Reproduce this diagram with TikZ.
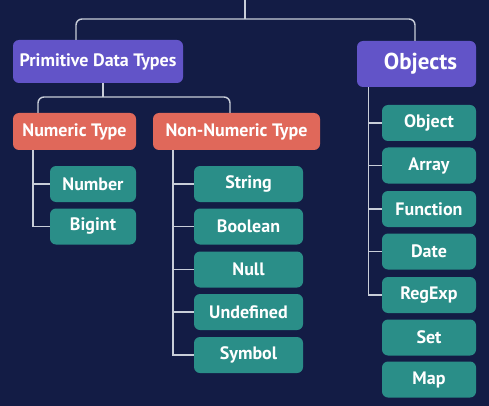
\documentclass[tikz,border=0pt]{standalone}
\usepackage{fontspec}
\setmainfont{PT Sans}
\definecolor{bgc}{HTML}{131C45}
\definecolor{purp}{HTML}{6254C8}
\definecolor{salm}{HTML}{E0685A}
\definecolor{teal}{HTML}{2A8E88}
\definecolor{linec}{HTML}{C8CDD8}
\tikzset{
  box/.style={rounded corners=6pt, text=white, align=center, inner sep=0pt,
    font=\fontsize{18}{20}\selectfont\bfseries},
  purpbox/.style={box, fill=purp},
  salmbox/.style={box, fill=salm, minimum height=37pt},
  leafbox/.style={box, fill=teal, minimum height=36pt},
  conn/.style={draw=linec, line width=1.4pt},
}
\begin{document}
\begin{tikzpicture}[x=1pt,y=-1pt]
\fill[bgc] (0,0) rectangle (489,406);
\useasboundingbox (0,0) rectangle (489,406);
% main nodes
\node[purpbox, minimum width=170pt, minimum height=43pt] (prim) at (98,61.5) {Primitive Data Types};
\node[purpbox, minimum width=119pt, minimum height=46pt, font=\fontsize{23}{26}\selectfont\bfseries] (obj) at (416.5,64) {\hspace*{8pt}Objects};
\node[salmbox, minimum width=123pt] (numt) at (74.5,131.5) {Numeric Type};
\node[salmbox, minimum width=167pt] (nonnum) at (236.5,131.5) {Non-Numeric Type};
% numeric leaves
\node[leafbox, minimum width=86pt] (number) at (93,184) {Number};
\node[leafbox, minimum width=86pt] (bigint) at (93,226.5) {Bigint};
% non-numeric leaves
\node[leafbox, minimum width=109pt] (string) at (248.5,184) {String};
\node[leafbox, minimum width=109pt] (boolean) at (248.5,226.5) {Boolean};
\node[leafbox, minimum width=109pt] (null) at (248.5,269.5) {Null};
\node[leafbox, minimum width=109pt] (undef) at (248.5,312) {Undefined};
\node[leafbox, minimum width=109pt] (symbol) at (248.5,355) {Symbol};
% object leaves
\node[leafbox, minimum width=94pt] (object) at (429,123) {Object};
\node[leafbox, minimum width=94pt] (array) at (429,165.5) {Array};
\node[leafbox, minimum width=94pt] (function) at (429,209) {Function};
\node[leafbox, minimum width=94pt] (date) at (429,251.5) {Date};
\node[leafbox, minimum width=94pt] (regexp) at (429,295) {RegExp};
\node[leafbox, minimum width=94pt] (set) at (429,337.5) {Set};
\node[leafbox, minimum width=94pt] (map) at (429,379.5) {Map};
% connector coordinates
\coordinate (top) at (245,0);
\coordinate (tl) at (76,19);
\coordinate (tr) at (415,19);
\coordinate (pm) at (103,97);
\coordinate (pl) at (38,97);
\coordinate (pr) at (230,97);
\coordinate (nl) at (33,0);
\coordinate (nn) at (173,0);
\coordinate (ol) at (368.5,0);
% connectors
\draw[conn] (top) -- (top |- tl);
\draw[conn, rounded corners=6pt] (prim.north -| tl) -- (tl) -- (tr) -- (obj.north -| tr);
\draw[conn] (prim.south -| pm) -- (pm);
\draw[conn, rounded corners=6pt] (numt.north -| pl) -- (pl) -- (pr) -- (nonnum.north -| pr);
\draw[conn] (numt.south -| nl) |- (bigint.west);
\draw[conn] (nl |- number.west) -- (number.west);
\draw[conn] (nonnum.south -| nn) |- (symbol.west);
\foreach \n in {string,boolean,null,undef}{\draw[conn] (nn |- \n.west) -- (\n.west);}
\draw[conn] (obj.south -| ol) |- (regexp.west);
\foreach \n in {object,array,function,date}{\draw[conn] (ol |- \n.west) -- (\n.west);}
\end{tikzpicture}
\end{document}
